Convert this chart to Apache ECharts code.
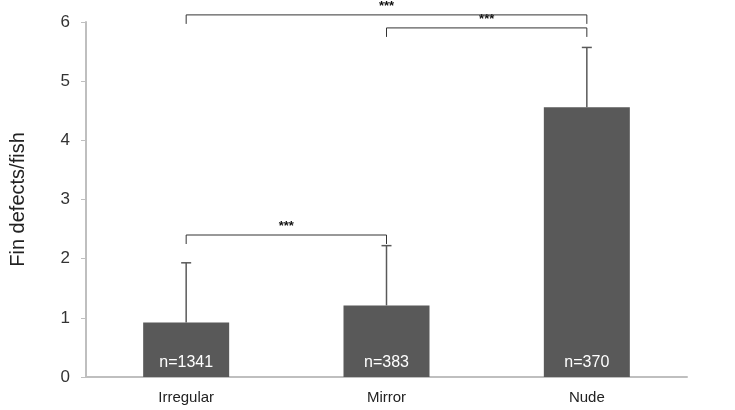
<!DOCTYPE html><html><head><meta charset="utf-8"><script src="https://cdn.jsdelivr.net/npm/echarts@6/dist/echarts.min.js"></script>
<style>html,body{margin:0;background:#fff}#c{width:735px;height:410px}</style></head><body><div id="c"></div><script>
const categories=['Irregular','Mirror','Nude'];
const means=[0.92,1.21,4.56];
const sds=[1.01,1.01,1.01];
const counts=['n=1341','n=383','n=370'];
const brackets=[[0,1,2.4],[1,2,5.9],[0,2,6.12]];
const yTicks=[0,1,2,3,4,5,6];
const chart=echarts.init(document.getElementById('c'));
const font='Arial, Liberation Sans, sans-serif';
chart.setOption({animation:false,
grid:{left:80,right:48,top:22,bottom:33},
xAxis:{type:'category',data:categories,axisTick:{show:false},axisLine:{lineStyle:{color:'#bfbfbf',width:2}},axisLabel:{color:'#222',fontSize:15,fontFamily:font,margin:13}},
yAxis:{type:'value',min:0,max:6,interval:1,name:'Fin defects/fish',nameLocation:'middle',nameGap:58,nameTextStyle:{fontSize:20,color:'#222',fontFamily:font},
 splitLine:{show:false},axisLine:{show:true,lineStyle:{color:'#bfbfbf',width:2}},axisTick:{show:true,length:5,lineStyle:{color:'#bfbfbf'}},
 axisLabel:{color:'#333',fontSize:17,fontFamily:font,margin:16,formatter:v=>yTicks.includes(v)?String(v):''}},
series:[
{type:'bar',data:means,barWidth:86,itemStyle:{color:'#595959'},label:{show:true,position:'insideBottom',color:'#fff',fontSize:16,fontFamily:font,distance:6,formatter:p=>counts[p.dataIndex]},z:2},
{type:'custom',data:means.map((m,i)=>[i,m,m+sds[i]]),z:3,renderItem:(p,api)=>{
 const a=api.coord([api.value(0),api.value(1)]),b=api.coord([api.value(0),api.value(2)]);
 return {type:'group',children:[
  {type:'line',shape:{x1:a[0],y1:a[1],x2:b[0],y2:b[1]},style:{stroke:'#595959',lineWidth:1.5}},
  {type:'line',shape:{x1:b[0]-5,y1:b[1],x2:b[0]+5,y2:b[1]},style:{stroke:'#595959',lineWidth:1.5}}]};}},
{type:'custom',data:brackets,z:4,renderItem:(p,api)=>{
 const a=api.coord([api.value(0),api.value(2)]),b=api.coord([api.value(1),api.value(2)]);
 return {type:'group',children:[
  {type:'polyline',shape:{points:[[a[0],a[1]+9],[a[0],a[1]],[b[0],b[1]],[b[0],b[1]+9]]},style:{stroke:'#333',lineWidth:1,fill:null}},
  {type:'text',x:(a[0]+b[0])/2,y:a[1]-2,style:{text:'***',fill:'#111',fontSize:13,fontWeight:'bold',fontFamily:font,align:'center',verticalAlign:'bottom'}}]};}}
]});
</script></body></html>
